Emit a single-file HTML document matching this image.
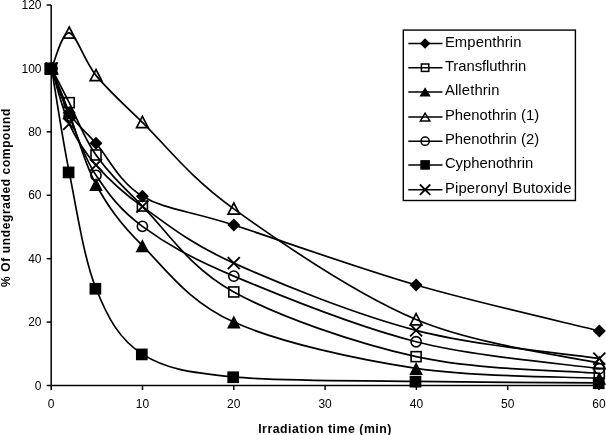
<!DOCTYPE html>
<html lang="en"><head><meta charset="utf-8"><title>Degradation chart</title>
<style>html,body{margin:0;padding:0;background:#fff}body{width:606px;height:435px;overflow:hidden}svg{display:block}</style>
</head><body>
<svg width="606" height="435" viewBox="0 0 606 435">
<rect width="606" height="435" fill="#fff"/>
<g stroke="#000" stroke-width="1.5" fill="none">
<path d="M51.20 5.00V385.50"/>
<path d="M51.20 385.50H599.00"/>
<path d="M46.70 385.50H51.20"/>
<path d="M46.70 322.08H51.20"/>
<path d="M46.70 258.67H51.20"/>
<path d="M46.70 195.25H51.20"/>
<path d="M46.70 131.84H51.20"/>
<path d="M46.70 68.42H51.20"/>
<path d="M46.70 5.00H51.20"/>
<path d="M51.20 385.50V390.00"/>
<path d="M142.50 385.50V390.00"/>
<path d="M233.80 385.50V390.00"/>
<path d="M325.10 385.50V390.00"/>
<path d="M416.40 385.50V390.00"/>
<path d="M507.70 385.50V390.00"/>
<path d="M599.00 385.50V390.00"/>
</g>
<g font-family="'Liberation Sans', Arial, sans-serif" font-size="12" fill="#000">
<text x="41.5" y="389.70" text-anchor="end">0</text>
<text x="41.5" y="326.28" text-anchor="end">20</text>
<text x="41.5" y="262.87" text-anchor="end">40</text>
<text x="41.5" y="199.45" text-anchor="end">60</text>
<text x="41.5" y="136.04" text-anchor="end">80</text>
<text x="41.5" y="72.62" text-anchor="end">100</text>
<text x="41.5" y="9.20" text-anchor="end">120</text>
<text x="51.20" y="407.5" text-anchor="middle">0</text>
<text x="142.50" y="407.5" text-anchor="middle">10</text>
<text x="233.80" y="407.5" text-anchor="middle">20</text>
<text x="325.10" y="407.5" text-anchor="middle">30</text>
<text x="416.40" y="407.5" text-anchor="middle">40</text>
<text x="507.70" y="407.5" text-anchor="middle">50</text>
<text x="599.00" y="407.5" text-anchor="middle">60</text>
</g>
<g font-family="'Liberation Sans', Arial, sans-serif" font-weight="bold" fill="#000">
<text x="324.8" y="432.7" font-size="12.3" text-anchor="middle" textLength="133.3" lengthAdjust="spacing">Irradiation time (min)</text>
<text transform="translate(9.8 197.8) rotate(-90)" font-size="12" text-anchor="middle" textLength="178.2" lengthAdjust="spacing">% Of undegraded compound</text>
</g>
<path d="M51.60 68.42 C54.53 75.82 61.80 100.34 69.20 112.81 C76.60 125.28 83.80 129.35 96.00 143.25 C108.20 157.15 119.43 182.57 142.40 196.20 C165.37 209.84 188.22 210.27 233.80 225.06 C279.42 239.85 355.18 267.33 416.10 284.99 C477.02 302.64 568.77 323.30 599.30 330.96" fill="none" stroke="#000" stroke-width="1.70" stroke-linejoin="round"/>
<path d="M51.60 61.92L58.10 68.42L51.60 74.92L45.10 68.42Z" fill="#000"/>
<path d="M69.20 106.31L75.70 112.81L69.20 119.31L62.70 112.81Z" fill="#000"/>
<path d="M96.00 136.75L102.50 143.25L96.00 149.75L89.50 143.25Z" fill="#000"/>
<path d="M142.40 189.70L148.90 196.20L142.40 202.70L135.90 196.20Z" fill="#000"/>
<path d="M233.80 218.56L240.30 225.06L233.80 231.56L227.30 225.06Z" fill="#000"/>
<path d="M416.10 278.49L422.60 284.99L416.10 291.49L409.60 284.99Z" fill="#000"/>
<path d="M599.30 324.46L605.80 330.96L599.30 337.46L592.80 330.96Z" fill="#000"/>
<path d="M51.60 68.42 C54.53 74.13 61.80 88.24 69.20 102.66 C76.60 117.09 83.80 137.75 96.00 154.98 C108.20 172.21 119.43 183.20 142.40 206.03 C165.37 228.86 188.18 266.86 233.80 291.96 C279.42 317.06 355.18 343.06 416.10 356.65 C477.02 370.23 568.77 370.65 599.30 373.45" fill="none" stroke="#000" stroke-width="1.70" stroke-linejoin="round"/>
<rect x="46.60" y="63.42" width="10.00" height="10.00" fill="none" stroke="#000" stroke-width="1.6"/>
<rect x="64.20" y="97.66" width="10.00" height="10.00" fill="none" stroke="#000" stroke-width="1.6"/>
<rect x="91.00" y="149.98" width="10.00" height="10.00" fill="none" stroke="#000" stroke-width="1.6"/>
<rect x="137.40" y="201.03" width="10.00" height="10.00" fill="none" stroke="#000" stroke-width="1.6"/>
<rect x="228.80" y="286.96" width="10.00" height="10.00" fill="none" stroke="#000" stroke-width="1.6"/>
<rect x="411.10" y="351.65" width="10.00" height="10.00" fill="none" stroke="#000" stroke-width="1.6"/>
<rect x="594.30" y="368.45" width="10.00" height="10.00" fill="none" stroke="#000" stroke-width="1.6"/>
<path d="M51.60 68.42 C54.53 75.82 61.80 93.47 69.20 112.81 C76.60 132.15 83.80 162.33 96.00 184.47 C108.20 206.61 119.43 222.73 142.40 245.67 C165.37 268.60 188.18 301.63 233.80 322.08 C279.42 342.54 355.18 359.02 416.10 368.38 C477.02 377.73 568.77 376.57 599.30 378.21" fill="none" stroke="#000" stroke-width="1.70" stroke-linejoin="round"/>
<path d="M51.60 61.92L58.40 74.92L44.80 74.92Z" fill="#000"/>
<path d="M69.20 106.31L76.00 119.31L62.40 119.31Z" fill="#000"/>
<path d="M96.00 177.97L102.80 190.97L89.20 190.97Z" fill="#000"/>
<path d="M142.40 239.17L149.20 252.17L135.60 252.17Z" fill="#000"/>
<path d="M233.80 315.58L240.60 328.58L227.00 328.58Z" fill="#000"/>
<path d="M416.10 361.88L422.90 374.88L409.30 374.88Z" fill="#000"/>
<path d="M599.30 371.71L606.10 384.71L592.50 384.71Z" fill="#000"/>
<path d="M51.60 68.42 C54.53 62.50 61.80 31.74 69.20 32.91 C76.60 34.07 83.80 60.49 96.00 75.40 C108.20 90.30 119.43 100.08 142.40 122.32 C165.37 144.57 188.18 176.02 233.80 208.89 C279.42 241.76 355.18 293.81 416.10 319.55 C477.02 345.28 568.77 356.01 599.30 363.30" fill="none" stroke="#000" stroke-width="1.70" stroke-linejoin="round"/>
<path d="M51.60 62.52L57.40 73.72L45.80 73.72Z" fill="none" stroke="#000" stroke-width="1.7"/>
<path d="M69.20 27.01L75.00 38.21L63.40 38.21Z" fill="none" stroke="#000" stroke-width="1.7"/>
<path d="M96.00 69.50L101.80 80.70L90.20 80.70Z" fill="none" stroke="#000" stroke-width="1.7"/>
<path d="M142.40 116.42L148.20 127.62L136.60 127.62Z" fill="none" stroke="#000" stroke-width="1.7"/>
<path d="M233.80 202.99L239.60 214.19L228.00 214.19Z" fill="none" stroke="#000" stroke-width="1.7"/>
<path d="M416.10 313.65L421.90 324.85L410.30 324.85Z" fill="none" stroke="#000" stroke-width="1.7"/>
<path d="M599.30 357.40L605.10 368.60L593.50 368.60Z" fill="none" stroke="#000" stroke-width="1.7"/>
<path d="M51.60 68.42 C54.53 76.35 61.80 98.17 69.20 115.98 C76.60 133.79 83.80 156.89 96.00 175.28 C108.20 193.67 119.43 209.52 142.40 226.33 C165.37 243.13 188.18 256.87 233.80 276.11 C279.42 295.34 355.18 326.31 416.10 341.74 C477.02 357.17 568.77 364.20 599.30 368.69" fill="none" stroke="#000" stroke-width="1.70" stroke-linejoin="round"/>
<circle cx="51.60" cy="68.42" r="5.10" fill="none" stroke="#000" stroke-width="1.6"/>
<circle cx="69.20" cy="115.98" r="5.10" fill="none" stroke="#000" stroke-width="1.6"/>
<circle cx="96.00" cy="175.28" r="5.10" fill="none" stroke="#000" stroke-width="1.6"/>
<circle cx="142.40" cy="226.33" r="5.10" fill="none" stroke="#000" stroke-width="1.6"/>
<circle cx="233.80" cy="276.11" r="5.10" fill="none" stroke="#000" stroke-width="1.6"/>
<circle cx="416.10" cy="341.74" r="5.10" fill="none" stroke="#000" stroke-width="1.6"/>
<circle cx="599.30" cy="368.69" r="5.10" fill="none" stroke="#000" stroke-width="1.6"/>
<path d="M51.60 68.42 C54.53 85.70 61.80 135.43 69.20 172.11 C76.60 208.78 83.80 258.14 96.00 288.47 C108.20 318.81 119.43 339.36 142.40 354.11 C165.37 368.85 188.18 372.39 233.80 376.94 C279.42 381.48 355.18 380.37 416.10 381.38 C477.02 382.38 568.77 382.70 599.30 382.96" fill="none" stroke="#000" stroke-width="1.70" stroke-linejoin="round"/>
<rect x="44.35" y="62.87" width="11.70" height="11.70" fill="#000"/>
<rect x="62.75" y="166.56" width="11.70" height="11.70" fill="#000"/>
<rect x="89.55" y="282.92" width="11.70" height="11.70" fill="#000"/>
<rect x="135.95" y="348.56" width="11.70" height="11.70" fill="#000"/>
<rect x="227.35" y="371.39" width="11.70" height="11.70" fill="#000"/>
<rect x="409.65" y="375.83" width="11.70" height="11.70" fill="#000"/>
<rect x="592.85" y="377.41" width="11.70" height="11.70" fill="#000"/>
<path d="M51.60 68.42 C54.53 77.67 61.80 107.79 69.20 123.91 C76.60 140.03 83.80 151.34 96.00 165.13 C108.20 178.92 119.43 190.34 142.40 206.67 C165.37 223.00 188.18 242.50 233.80 263.11 C279.42 283.72 355.18 314.42 416.10 330.33 C477.02 346.23 568.77 353.84 599.30 358.55" fill="none" stroke="#000" stroke-width="1.70" stroke-linejoin="round"/>
<path d="M45.60 62.42L57.60 74.42M45.60 74.42L57.60 62.42" fill="none" stroke="#000" stroke-width="1.9"/>
<path d="M63.20 117.91L75.20 129.91M63.20 129.91L75.20 117.91" fill="none" stroke="#000" stroke-width="1.9"/>
<path d="M90.00 159.13L102.00 171.13M90.00 171.13L102.00 159.13" fill="none" stroke="#000" stroke-width="1.9"/>
<path d="M136.40 200.67L148.40 212.67M136.40 212.67L148.40 200.67" fill="none" stroke="#000" stroke-width="1.9"/>
<path d="M227.80 257.11L239.80 269.11M227.80 269.11L239.80 257.11" fill="none" stroke="#000" stroke-width="1.9"/>
<path d="M410.10 324.33L422.10 336.33M410.10 336.33L422.10 324.33" fill="none" stroke="#000" stroke-width="1.9"/>
<path d="M593.30 352.55L605.30 364.55M593.30 364.55L605.30 352.55" fill="none" stroke="#000" stroke-width="1.9"/>
<rect x="403.3" y="30.1" width="172.1" height="170.4" fill="#fff" stroke="#000" stroke-width="1.4"/>
<g font-family="'Liberation Sans', Arial, sans-serif" font-size="14.8" fill="#000">
<path d="M408.3 43.50H442.5" stroke="#000" stroke-width="1.5" fill="none"/>
<path d="M425.10 38.20L430.40 43.50L425.10 48.80L419.80 43.50Z" fill="#000"/>
<text x="444.9" y="46.90" textLength="76.6" lengthAdjust="spacing">Empenthrin</text>
<path d="M408.3 67.70H442.5" stroke="#000" stroke-width="1.5" fill="none"/>
<rect x="421.40" y="64.00" width="7.40" height="7.40" fill="none" stroke="#000" stroke-width="1.5"/>
<text x="444.9" y="71.10" textLength="81.3" lengthAdjust="spacing">Transfluthrin</text>
<path d="M408.3 91.90H442.5" stroke="#000" stroke-width="1.5" fill="none"/>
<path d="M425.10 87.30L430.70 96.50L419.50 96.50Z" fill="#000"/>
<text x="444.9" y="95.40" textLength="54.6" lengthAdjust="spacing">Allethrin</text>
<path d="M408.3 117.00H442.5" stroke="#000" stroke-width="1.5" fill="none"/>
<path d="M425.10 113.10L429.80 120.90L420.40 120.90Z" fill="none" stroke="#000" stroke-width="1.5"/>
<text x="444.9" y="119.70" textLength="94.2" lengthAdjust="spacing">Phenothrin (1)</text>
<path d="M408.3 141.20H442.5" stroke="#000" stroke-width="1.5" fill="none"/>
<circle cx="425.10" cy="141.20" r="4.10" fill="none" stroke="#000" stroke-width="1.5"/>
<text x="444.9" y="143.60" textLength="94.2" lengthAdjust="spacing">Phenothrin (2)</text>
<path d="M408.3 164.90H442.5" stroke="#000" stroke-width="1.5" fill="none"/>
<rect x="420.30" y="160.10" width="9.60" height="9.60" fill="#000"/>
<text x="444.9" y="167.80" textLength="88.4" lengthAdjust="spacing">Cyphenothrin</text>
<path d="M408.3 189.70H442.5" stroke="#000" stroke-width="1.5" fill="none"/>
<path d="M419.90 184.50L430.30 194.90M419.90 194.90L430.30 184.50" fill="none" stroke="#000" stroke-width="1.8"/>
<text x="444.9" y="192.70" textLength="126.6" lengthAdjust="spacing">Piperonyl Butoxide</text>
</g>
</svg>
</body></html>
